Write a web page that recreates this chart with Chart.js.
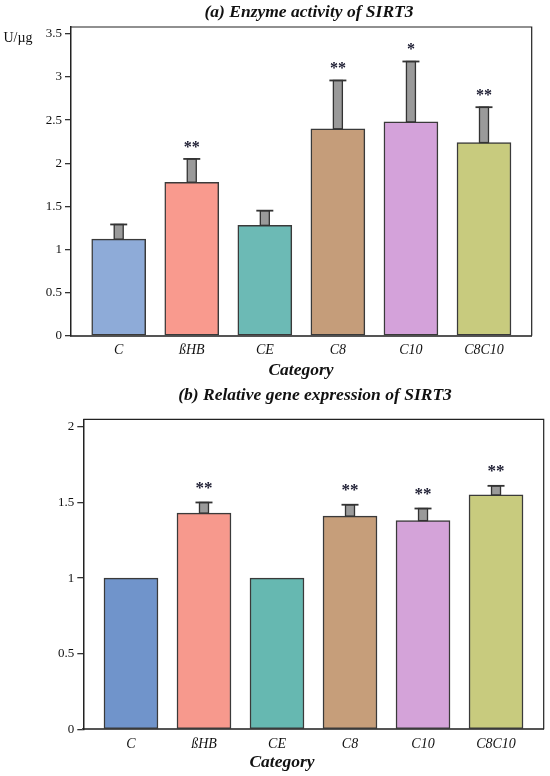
<!DOCTYPE html>
<html>
<head>
<meta charset="utf-8">
<script src="https://cdn.jsdelivr.net/npm/chart.js@4.4.1/dist/chart.umd.min.js"></script>
<style>
  html, body { margin: 0; padding: 0; background: #fff; }
  #wrapA { position: absolute; left: 0; top: 0; width: 550px; height: 380px; }
  #wrapB { position: absolute; left: 0; top: 380px; width: 550px; height: 396px; }
</style>
</head>
<body>
<div id="wrapA"><canvas id="chartA" width="550" height="380"></canvas></div>
<div id="wrapB"><canvas id="chartB" width="550" height="396"></canvas></div>
<script>
// categories shared by both panels
const categories = ['C', 'ßHB', 'CE', 'C8', 'C10', 'C8C10'];

// (a) enzyme activity, U/µg
const enzymeMean = [1.12, 1.78, 1.28, 2.40, 2.48, 2.24];
const enzymeSd = [0.17, 0.27, 0.17, 0.56, 0.70, 0.41];
const enzymeStars = ['', '**', '', '**', '*', '**'];
const enzymeTicks = [0, 0.5, 1, 1.5, 2, 2.5, 3, 3.5];

// (b) relative gene expression
const geneMean = [1.00, 1.43, 1.00, 1.41, 1.38, 1.55];
const geneSd = [0, 0.07, 0, 0.075, 0.08, 0.06];
const geneStars = ['', '**', '', '**', '**', '**'];
const geneTicks = [0, 0.5, 1, 1.5, 2];

const enzymeColors = ['#8eabd8', '#f99a8e', '#6cbab5', '#c59d7a', '#d4a2da', '#c8cb7e'];
const geneColors = ['#7094cb', '#f7998d', '#66b8b1', '#c69e7a', '#d4a3d9', '#c8cb7e'];

const serif = '"Liberation Serif", "DejaVu Serif", serif';

// error bars (grey box + cap) and significance stars
const errorBars = {
  id: 'errorBars',
  afterDatasetsDraw(chart, args, opts) {
    const ctx = chart.ctx;
    const ys = chart.scales.y;
    const meta = chart.getDatasetMeta(0);
    meta.data.forEach(function (bar, i) {
      const sd = opts.sd[i];
      const top = ys.getPixelForValue(opts.mean[i] + sd);
      ctx.save();
      if (sd > 0) {
        ctx.fillStyle = '#9a9a9a';
        ctx.strokeStyle = '#333';
        ctx.lineWidth = 1.3;
        ctx.fillRect(bar.x - 4.5, top, 9, bar.y - top);
        ctx.strokeRect(bar.x - 4.5, top, 9, bar.y - top);
        ctx.lineWidth = 1.8;
        ctx.beginPath();
        ctx.moveTo(bar.x - 8.5, top);
        ctx.lineTo(bar.x + 8.5, top);
        ctx.stroke();
      }
      if (opts.stars[i]) {
        ctx.fillStyle = '#1b1b30';
        ctx.font = 'bold ' + opts.starSize + 'px ' + serif;
        ctx.textAlign = 'center';
        ctx.textBaseline = 'alphabetic';
        ctx.fillText(opts.stars[i], bar.x, top - opts.starGap + opts.starSize * 0.52);
      }
      ctx.restore();
    });
  }
};

// frame on top and right, titles and free labels
const panelText = {
  id: 'panelText',
  afterDraw(chart, args, opts) {
    const ctx = chart.ctx;
    const a = chart.chartArea;
    ctx.save();
    ctx.strokeStyle = '#222';
    ctx.lineWidth = 1.2;
    ctx.beginPath();
    ctx.moveTo(a.left, a.top);
    ctx.lineTo(a.right, a.top);
    ctx.lineTo(a.right, a.bottom);
    ctx.stroke();
    opts.texts.forEach(function (t) {
      ctx.font = t.font;
      ctx.fillStyle = '#111';
      ctx.textAlign = 'center';
      ctx.textBaseline = 'middle';
      ctx.fillText(t.text, t.x, t.y);
    });
    ctx.restore();
  }
};

function makePanel(id, means, sds, colors, stars, ticks, yMax, geom, texts, starSize, starGap) {
  return new Chart(document.getElementById(id), {
    type: 'bar',
    data: {
      datasets: [{
        data: means.map(function (v, i) { return { x: i, y: v }; }),
        backgroundColor: colors,
        borderColor: '#3a3a3a',
        borderWidth: 1.5,
        borderSkipped: false,
        barThickness: 54
      }]
    },
    options: {
      responsive: false,
      animation: false,
      layout: { padding: { left: 0, right: geom.pr, top: geom.pt, bottom: 0 } },
      plugins: {
        legend: { display: false },
        tooltip: { enabled: false },
        errorBars: { mean: means, sd: sds, stars: stars, starSize: starSize, starGap: starGap },
        panelText: { texts: texts }
      },
      scales: {
        x: {
          type: 'linear',
          offset: false,
          min: -0.653,
          max: 5.653,
          afterBuildTicks: function (s) { s.ticks = categories.map(function (c, i) { return { value: i }; }); },
          afterFit: function (s) { s.height = geom.xh; },
          grid: { display: false, drawTicks: false, offset: false },
          border: { display: true, color: '#555', width: 2 },
          ticks: {
            autoSkip: false,
            maxRotation: 0,
            padding: geom.xpad,
            color: '#111',
            font: { family: serif, size: 14, style: 'italic' },
            callback: function (v) { return categories[v]; }
          }
        },
        y: {
          min: 0,
          max: yMax,
          afterBuildTicks: function (s) { s.ticks = ticks.map(function (v) { return { value: v }; }); },
          afterFit: function (s) { s.width = geom.yw; },
          grid: { display: true, drawOnChartArea: false, drawTicks: true, tickLength: 6, color: '#333', lineWidth: 1.3 },
          border: { display: true, color: '#222', width: 1.5 },
          ticks: {
            padding: 3,
            color: '#111',
            font: { family: serif, size: 13 },
            callback: function (v) { return String(v); }
          }
        }
      }
    },
    plugins: [errorBars, panelText]
  });
}

const titleFont = 'bold italic 17.5px ' + serif;

makePanel('chartA', enzymeMean, enzymeSd, enzymeColors, enzymeStars, enzymeTicks, 3.58,
  { yw: 71, pr: 18.3, pt: 27, xh: 44.3, xpad: 6.5 },
  [
    { text: '(a) Enzyme activity of SIRT3', x: 309, y: 12, font: titleFont },
    { text: 'Category', x: 301, y: 370.5, font: titleFont },
    { text: 'U/\u00b5g', x: 18, y: 38, font: '14px ' + serif }
  ], 16, 15.5);

makePanel('chartB', geneMean, geneSd, geneColors, geneStars, geneTicks, 2.05,
  { yw: 83.3, pr: 6.3, pt: 39.3, xh: 46.7, xpad: 6.5 },
  [
    { text: '(b) Relative gene expression of SIRT3', x: 315, y: 15, font: titleFont },
    { text: 'Category', x: 282, y: 382.7, font: titleFont }
  ], 17, 18.5);
</script>
</body>
</html>
